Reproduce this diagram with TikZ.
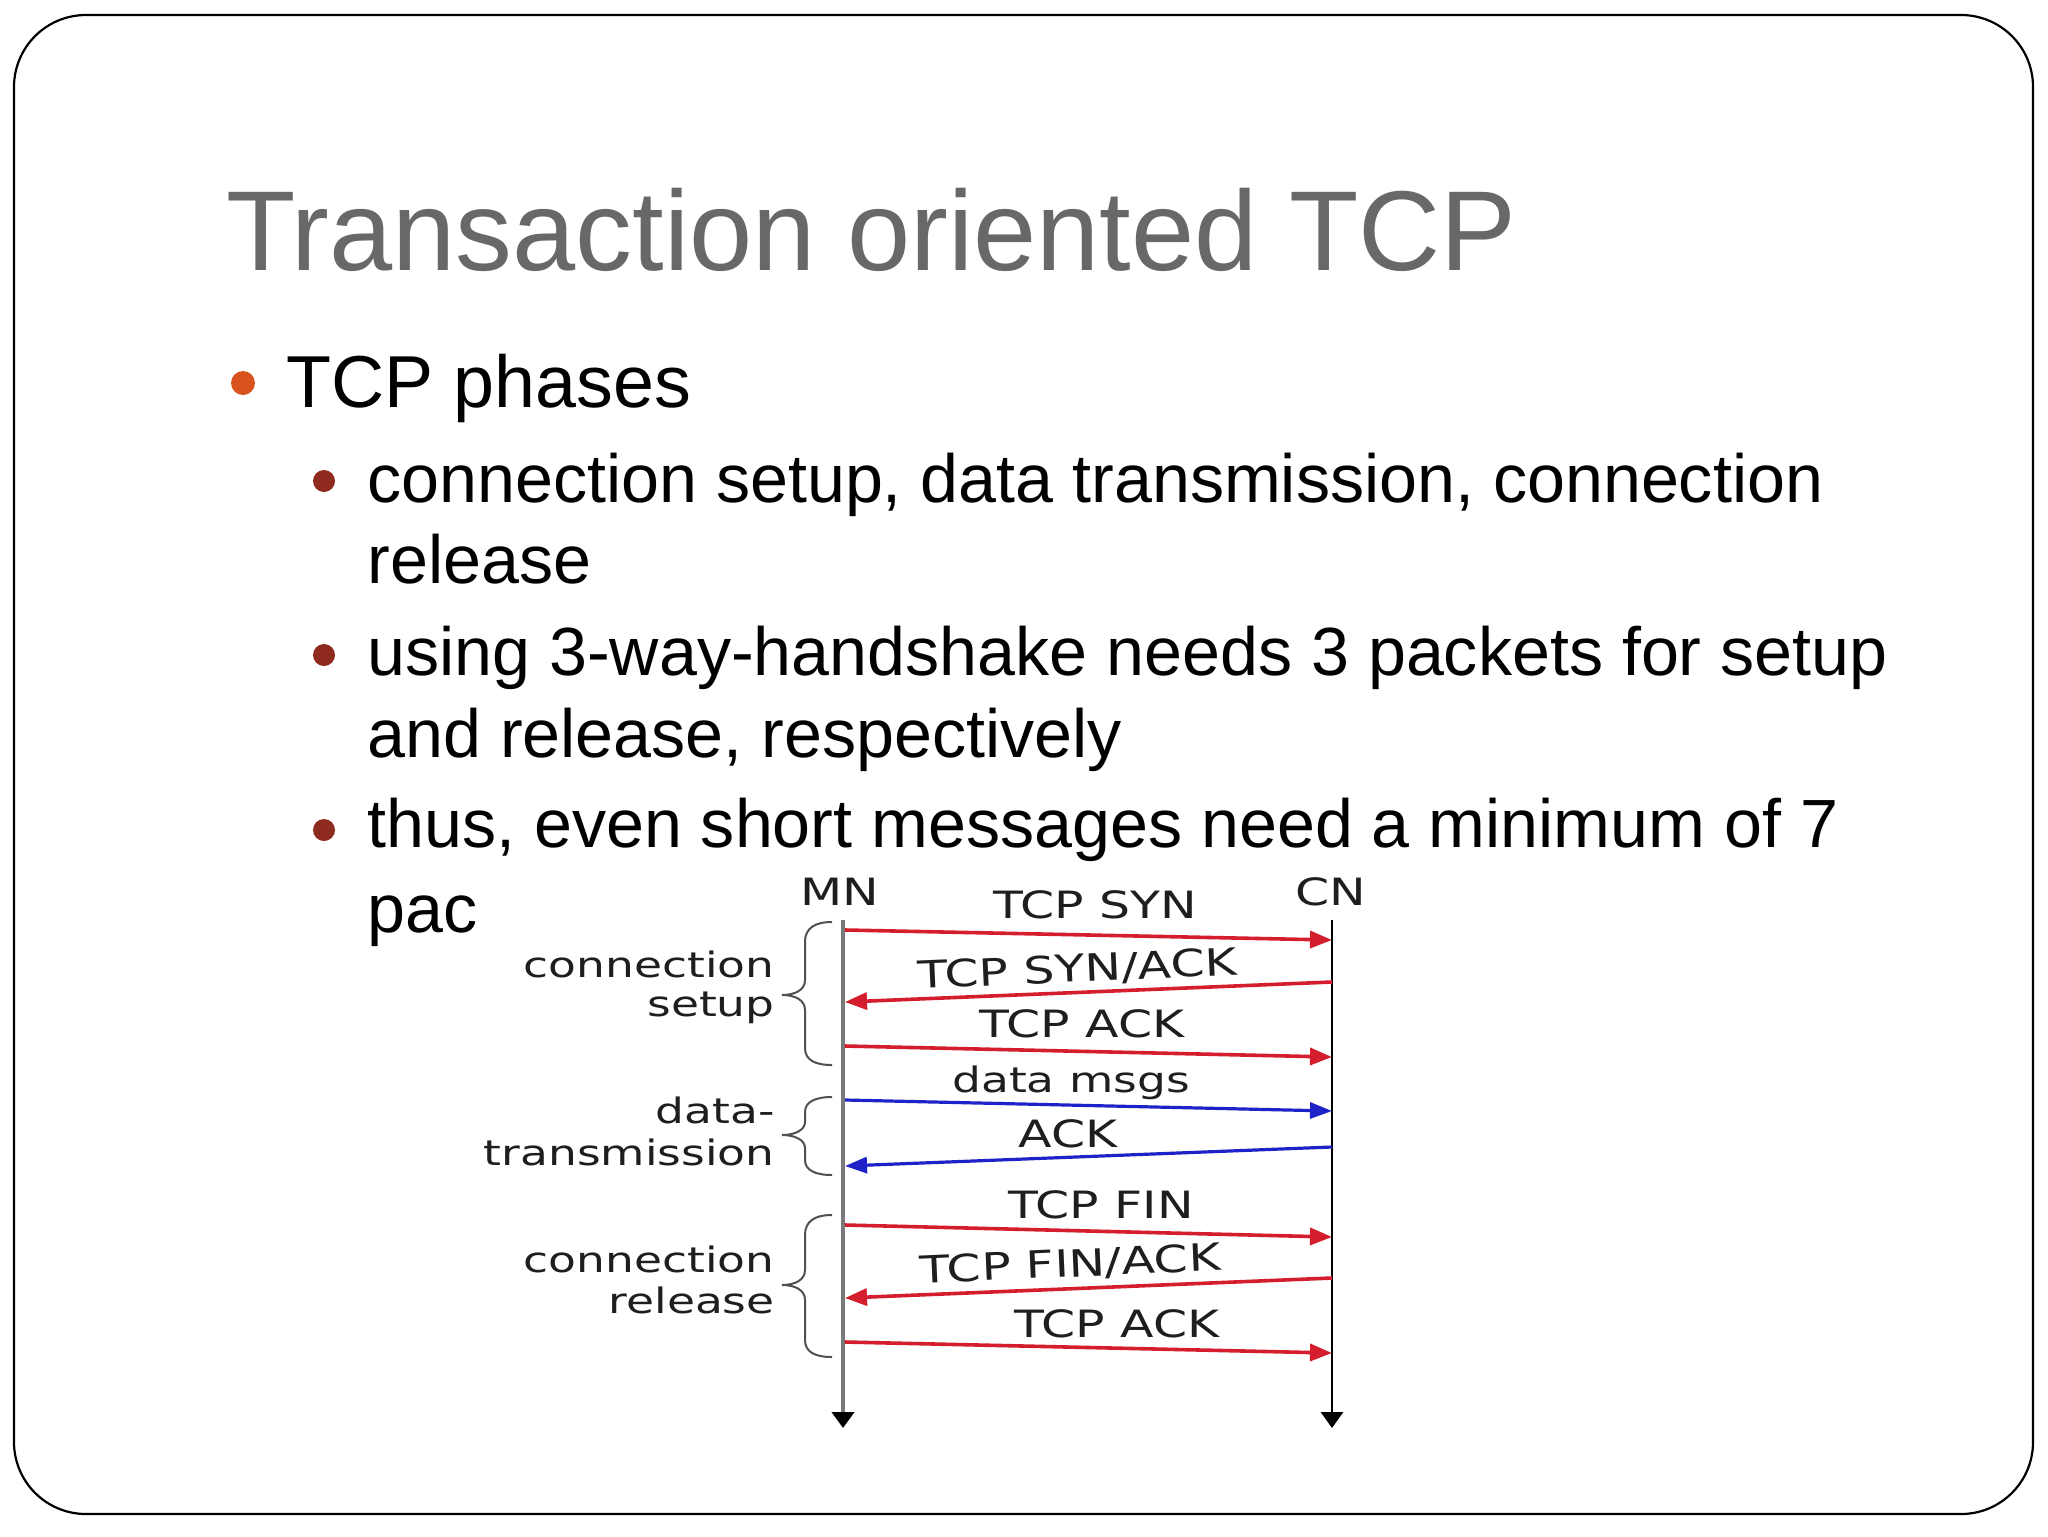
\documentclass[tikz,border=0pt]{standalone}
\usepackage{fontspec}
\setmainfont{Liberation Sans}
\newfontfamily\handfont[FakeStretch=1.3]{DejaVu Sans}
\usetikzlibrary{arrows.meta}
\definecolor{titlegray}{HTML}{686868}
\definecolor{bulorange}{HTML}{D9531E}
\definecolor{bulred}{HTML}{8E2A1E}
\definecolor{msgred}{HTML}{D41E2E}
\definecolor{msgblue}{HTML}{1E22C8}
\definecolor{labgray}{HTML}{1E1E1E}
\definecolor{bracegray}{HTML}{505050}
\definecolor{mngray}{HTML}{7A7A7A}
\begin{document}
\begin{tikzpicture}[x=0.5pt,y=-0.5pt,
  titletext/.style={anchor=base west,inner sep=0,text=titlegray,font=\fontsize{56.8}{60}\selectfont},
  lone/.style={anchor=base west,inner sep=0,font=\fontsize{36.8}{40}\selectfont},
  ltwo/.style={anchor=base west,inner sep=0,font=\fontsize{34.1}{38}\selectfont},
  capslab/.style={anchor=base,inner sep=0,text=labgray,font=\handfont\fontsize{18.8}{20}\selectfont},
  lowlab/.style={anchor=base,inner sep=0,text=labgray,font=\handfont\fontsize{17.5}{20}\selectfont},
  sidelab/.style={anchor=base east,inner sep=0,text=labgray,font=\handfont\fontsize{17.5}{20}\selectfont},
  redmsg/.style={draw=msgred,line width=1.8pt,-{Triangle[length=11pt,width=8.5pt]}},
  bluemsg/.style={draw=msgblue,line width=1.6pt,-{Triangle[length=11pt,width=8pt]}},
  mnline/.style={draw=mngray,line width=2.4pt,-{Triangle[length=8pt,width=11pt,color=black]}},
  cnline/.style={draw=black,line width=1.4pt,-{Triangle[length=8pt,width=11pt]}},
  bracestyle/.style={draw=bracegray,line width=1pt},
]
\useasboundingbox (0,0) rectangle (2048,1536);
\fill[white] (0,0) rectangle (2048,1536);
\draw[line width=1.1pt, rounded corners=36pt] (14,15) rectangle (2033,1514);

% title
\node[titletext] (title) at (226,270) {Transaction oriented TCP};

% bullets
\fill[bulorange] (243,383) circle[radius=6pt];
\node[lone] (l1) at (286,407) {TCP phases};
\fill[bulred] (324,481) circle[radius=5.5pt];
\node[ltwo] (b1a) at (367,502) {connection setup, data transmission, connection};
\node[ltwo] (b1b) at (367,583) {release};
\fill[bulred] (324,655) circle[radius=5.5pt];
\node[ltwo] (b2a) at (367,675) {using 3-way-handshake needs 3 packets for setup};
\node[ltwo] (b2b) at (367,757) {and release, respectively};
\fill[bulred] (324,830) circle[radius=5.5pt];
\node[ltwo] (b3a) at (367,847) {thus, even short messages need a minimum of 7};
\node[ltwo] (b3b) at (367,932) {pac};

% lifelines
\node[capslab] (MN) at (840,905) {MN};
\node[capslab] (CN) at (1331,905) {CN};
\coordinate (mnTop) at (843,920);
\coordinate (mnBot) at (843,1428);
\coordinate (cnTop) at (1332,920);
\coordinate (cnBot) at (1332,1428);
\draw[mnline] (mnTop) -- (mnBot);
\draw[cnline] (cnTop) -- (cnBot);

% message end points
\coordinate (m1) at (845,930);  \coordinate (c1) at (1332,940);
\coordinate (c2) at (1332,982); \coordinate (m2) at (845,1002);
\coordinate (m3) at (845,1046); \coordinate (c3) at (1332,1057);
\coordinate (m4) at (845,1100); \coordinate (c4) at (1332,1111);
\coordinate (c5) at (1332,1147); \coordinate (m5) at (845,1166);
\coordinate (m6) at (845,1225); \coordinate (c6) at (1332,1237);
\coordinate (c7) at (1332,1278); \coordinate (m7) at (845,1298);
\coordinate (m8) at (845,1342); \coordinate (c8) at (1332,1353);

\draw[redmsg] (m1) -- (c1);
\draw[redmsg] (c2) -- (m2);
\draw[redmsg] (m3) -- (c3);
\draw[bluemsg] (m4) -- (c4);
\draw[bluemsg] (c5) -- (m5);
\draw[redmsg] (m6) -- (c6);
\draw[redmsg] (c7) -- (m7);
\draw[redmsg] (m8) -- (c8);

% message labels
\node[capslab] (t1) at (1095,918) {TCP SYN};
\node[capslab,rotate=2.5] (t2) at (1078,982) {TCP SYN/ACK};
\node[capslab] (t3) at (1082,1037) {TCP ACK};
\node[lowlab] (t4) at (1071,1092) {data msgs};
\node[capslab] (t5) at (1068,1147) {ACK};
\node[capslab] (t6) at (1101,1218) {TCP FIN};
\node[capslab,rotate=2.5] (t7) at (1071,1277) {TCP FIN/ACK};
\node[capslab] (t8) at (1117,1337) {TCP ACK};

% phase labels
\node[sidelab] (p1a) at (775,977) {connection};
\node[sidelab] (p1b) at (775,1016) {setup};
\node[sidelab] (p2a) at (775,1123) {data-};
\node[sidelab] (p2b) at (775,1165) {transmission};
\node[sidelab] (p3a) at (775,1272) {connection};
\node[sidelab] (p3b) at (775,1313) {release};

% braces
\draw[bracestyle] (832,922) .. controls (815,922) and (805,928) .. (805,942) -- (805,980)
  .. controls (805,990) and (795,995) .. (782,995)
  .. controls (795,995) and (805,1000) .. (805,1010) -- (805,1048)
  .. controls (805,1060) and (815,1065) .. (832,1065);
\draw[bracestyle] (832,1097) .. controls (815,1097) and (805,1102) .. (805,1112) -- (805,1122)
  .. controls (805,1130) and (795,1135) .. (782,1135)
  .. controls (795,1135) and (805,1140) .. (805,1148) -- (805,1160)
  .. controls (805,1170) and (815,1175) .. (832,1175);
\draw[bracestyle] (832,1215) .. controls (815,1215) and (805,1221) .. (805,1235) -- (805,1270)
  .. controls (805,1280) and (795,1285) .. (782,1285)
  .. controls (795,1285) and (805,1290) .. (805,1300) -- (805,1340)
  .. controls (805,1352) and (815,1357) .. (832,1357);
\end{tikzpicture}
\end{document}
